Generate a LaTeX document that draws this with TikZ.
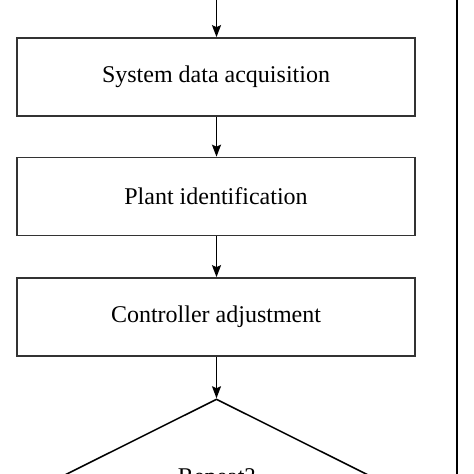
\documentclass[tikz,border=0pt]{standalone}
\usepackage{fontspec}
\setmainfont{Liberation Serif}
\usetikzlibrary{shapes.geometric,arrows.meta}
\begin{document}
\begin{tikzpicture}[x=1pt,y=-1pt,
  stepbox/.style={draw=black!80,line width=1.7pt,minimum width=398pt,minimum height=78pt,inner sep=0pt,font=\fontsize{24}{28}\selectfont},
  decision/.style={diamond,draw=black,line width=1.5pt,minimum width=320pt,minimum height=160pt,inner sep=0pt,font=\fontsize{24}{28}\selectfont},
  flow/.style={line width=1.5pt,-{Stealth[length=12pt,width=9pt,inset=2pt]}}]
\useasboundingbox (0,0) rectangle (474,474);
\clip (0,0) rectangle (474,474);
\fill[white] (0,0) rectangle (474,474);
\coordinate (start) at (216.5,0);
\node[stepbox] (b1) at (216,77) {System data acquisition};
\node[stepbox] (b2) at (216,196.5) {Plant identification};
\node[stepbox] (b3) at (216,317) {Controller adjustment};
\node[decision] (d) at (216.5,479) {Repeat?};
\coordinate (vt) at (457,0);
\coordinate (vb) at (457,474);
\draw[flow] (start) -- (b1.north -| start);
\draw[flow] (b1.south -| start) -- (b2.north -| start);
\draw[flow] (b2.south -| start) -- (b3.north -| start);
\draw[flow] (b3.south -| start) -- (d.north);
\draw[line width=1.5pt] (vt) -- (vb);
\end{tikzpicture}
\end{document}
